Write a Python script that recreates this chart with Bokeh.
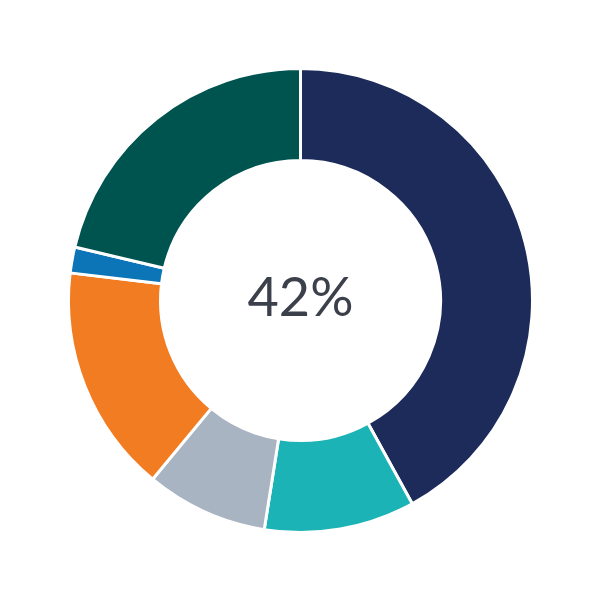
import math
from bokeh.plotting import figure
from bokeh.models import Range1d, ColumnDataSource
from bokeh.core.properties import value
from bokeh.embed import file_html
from bokeh.resources import INLINE

categories = ["Navy", "Teal", "Gray", "Orange", "Blue", "Green"]
shares = [42.0, 10.5, 8.5, 15.9, 1.8, 21.3]
colors = ["#1c2b5a", "#1bb3b5", "#a9b4c3", "#f27c21", "#0b75b8", "#00544f"]
center_label = "42%"

W = H = 584
CX, CY = 300, 284
p = figure(width=W, height=H, output_backend="svg", toolbar_location=None,
           x_range=Range1d(0, W), y_range=Range1d(0, H), min_border=0)
p.axis.visible = False
p.grid.visible = False
p.outline_line_color = None
p.background_fill_color = "white"

total = sum(shares)
starts, ends = [], []
cum = 0.0
for s in shares:
    starts.append(math.pi / 2 - 2 * math.pi * cum / total)
    cum += s
    ends.append(math.pi / 2 - 2 * math.pi * cum / total)

src = ColumnDataSource(dict(cat=categories, start=starts, end=ends, color=colors,
                            x=[CX] * len(shares), y=[CY] * len(shares)))
p.annular_wedge(x="x", y="y", inner_radius=140, outer_radius=232,
                start_angle="start", end_angle="end", direction="clock",
                fill_color="color", line_color="white", line_width=3, source=src)

p.text(x=[CX], y=[CY + 5], text=[center_label], text_align="center", text_baseline="middle",
       text_font=value("Lato"), text_font_size="54px", text_color="#3b404b")

open("out.html", "w").write(file_html(p, INLINE))
